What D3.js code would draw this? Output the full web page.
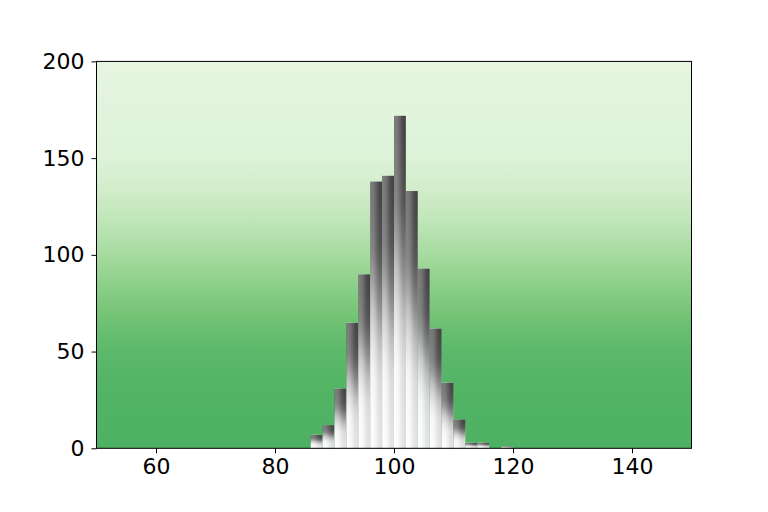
<!DOCTYPE html>
<html>
<head>
<meta charset="utf-8">
<script src="https://cdn.jsdelivr.net/npm/d3@7"></script>
<style>
  html, body { margin: 0; padding: 0; background: #ffffff; }
  svg { display: block; }
</style>
</head>
<body>
<svg id="chart" width="768" height="512"></svg>
<script>
// ---- data ----
const binLefts = [86, 88, 90, 92, 94, 96, 98, 100, 102, 104, 106, 108, 110, 112, 114, 116, 118];
const counts   = [7, 12, 31, 65, 90, 138, 141, 172, 133, 93, 62, 34, 15, 3, 3, 0, 1];
const binWidth = 2;
const xTicks = [60, 80, 100, 120, 140];
const yTicks = [0, 50, 100, 150, 200];
const xDomain = [50, 150];
const yDomain = [0, 200];

// ---- layout ----
const plot = { left: 96.5, right: 691.5, top: 61.4, bottom: 448.3 };
const svg = d3.select("#chart");

const x = d3.scaleLinear().domain(xDomain).range([plot.left, plot.right]);
const y = d3.scaleLinear().domain(yDomain).range([plot.bottom, plot.top]);

// colormaps (matplotlib ColorBrewer stops)
const greensStops = ["#f7fcf5","#e5f5e0","#c7e9c0","#a1d99b","#74c476","#41ab5d","#238b45","#006d2c","#00441b"];
const greysStops  = ["#ffffff","#f0f0f0","#d9d9d9","#bdbdbd","#969696","#737373","#525252","#252525","#000000"];
const cmap = stops => d3.scaleLinear().domain(stops.map((_, i) => i / (stops.length - 1))).range(stops).interpolate(d3.interpolateRgb).clamp(true);
const greens = cmap(greensStops);
const greys = cmap(greysStops);

// smooth upsampling profile of a 2-pixel image (blend of B-spline and Catmull-Rom)
function bspline(p) {
  const s = (p - 0.25) * 2;
  if (s <= -1) return 0;
  if (s < 0) return Math.pow(s + 1, 3) / 6;
  if (s <= 1) return (-2 * s * s * s + 3 * s * s + 3 * s + 1) / 6;
  if (s < 2) return 1 - Math.pow(2 - s, 3) / 6;
  return 1;
}
function catmull(p) {
  const s = (p - 0.25) * 2;
  if (s <= 0) return 0;
  if (s >= 1) return 1;
  return 0.5 * s + 1.5 * s * s - s * s * s;
}
const profile = p => 0.5 * bspline(p) + 0.5 * catmull(p);

const defs = svg.append("defs");

// background gradient (vertical, light at top, dark at bottom)
const bgLo = 0.12, bgHi = 0.6;
const bg = defs.append("linearGradient").attr("id", "bggrad")
  .attr("x1", 0).attr("y1", 0).attr("x2", 0).attr("y2", 1);
d3.range(0, 41).forEach(i => {
  const p = i / 40;
  const v = bgLo + (bgHi - bgLo) * profile(p);
  bg.append("stop").attr("offset", p).attr("stop-color", greens(v));
});

// bar gradient image (same normalized gradient for each bar)
const cw = 48, ch = 256;
const cv = document.createElement("canvas");
cv.width = cw; cv.height = ch;
const ctx = cv.getContext("2d");
const img = ctx.createImageData(cw, ch);
const vTop = 0.6, hRight = 0.2;
for (let j = 0; j < ch; j++) {
  const py = 1 - (j + 0.5) / ch; // 0 bottom, 1 top
  const wy = profile(py);
  for (let i = 0; i < cw; i++) {
    const px = (i + 0.5) / cw;
    const wx = profile(px);
    const v = vTop * wy + hRight * wx;
    const c = d3.rgb(greys(v));
    const k = (j * cw + i) * 4;
    img.data[k] = c.r; img.data[k + 1] = c.g; img.data[k + 2] = c.b; img.data[k + 3] = 255;
  }
}
ctx.putImageData(img, 0, 0);
const pat = defs.append("pattern").attr("id", "barpat")
  .attr("patternUnits", "objectBoundingBox")
  .attr("patternContentUnits", "objectBoundingBox")
  .attr("width", 1).attr("height", 1);
pat.append("image").attr("href", cv.toDataURL("image/png"))
  .attr("x", 0).attr("y", 0).attr("width", 1).attr("height", 1)
  .attr("preserveAspectRatio", "none");

// background
svg.append("rect")
  .attr("x", x(xDomain[0])).attr("y", y(yDomain[1]))
  .attr("width", x(xDomain[1]) - x(xDomain[0]))
  .attr("height", y(yDomain[0]) - y(yDomain[1]))
  .attr("fill", "url(#bggrad)");

// bars
const bars = binLefts.map((l, i) => ({ left: l, count: counts[i] })).filter(d => d.count > 0);
svg.append("g").selectAll("rect").data(bars).join("rect")
  .attr("x", d => x(d.left))
  .attr("y", d => y(d.count))
  .attr("width", d => x(d.left + binWidth) - x(d.left))
  .attr("height", d => y(0) - y(d.count))
  .attr("fill", "url(#barpat)");

// axes
const fontFam = "'DejaVu Sans', sans-serif";
const xAxis = d3.axisBottom(x).tickValues(xTicks).tickSize(5).tickPadding(5).tickFormat(d3.format("d"));
const yAxis = d3.axisLeft(y).tickValues(yTicks).tickSize(5).tickPadding(7).tickFormat(d3.format("d"));

const gx = svg.append("g").attr("transform", `translate(0,${plot.bottom})`).call(xAxis);
const gy = svg.append("g").attr("transform", `translate(${plot.left},0)`).call(yAxis);
[gx, gy].forEach(g => {
  g.select(".domain").remove();
  g.selectAll(".tick line").attr("stroke", "#000").attr("stroke-width", 1);
  g.selectAll(".tick text").attr("fill", "#000").style("font-family", fontFam).style("font-size", "22px");
});

// frame (spines)
svg.append("rect")
  .attr("x", plot.left).attr("y", plot.top)
  .attr("width", plot.right - plot.left).attr("height", plot.bottom - plot.top)
  .attr("fill", "none").attr("stroke", "#000").attr("stroke-width", 1);
</script>
</body>
</html>
